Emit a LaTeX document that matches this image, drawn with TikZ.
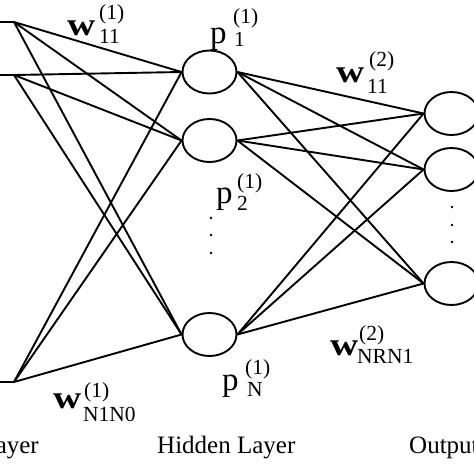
\documentclass[tikz,border=0pt]{standalone}
\usepackage{fontspec}
\setmainfont{Liberation Serif}
\usetikzlibrary{shapes.geometric}
\begin{document}
\begin{tikzpicture}[x=1pt,y=-1pt,
 neuron/.style={draw, ellipse, line width=1.9pt, minimum width=54pt, minimum height=43pt, inner sep=0},
 conn/.style={line width=1.9pt},
 wlab/.style={anchor=base west, inner sep=0, font=\fontsize{32}{32}\selectfont\bfseries, xscale=1.22},
 plab/.style={anchor=base west, inner sep=0, font=\fontsize{33}{33}\selectfont},
 idx/.style={anchor=base west, inner sep=0, font=\fontsize{21.5}{21.5}\selectfont},
 layer/.style={inner sep=0, font=\fontsize{25}{25}\selectfont},
 dotm/.style={circle, fill, inner sep=0, minimum size=2.6pt}]
\useasboundingbox (0,0) rectangle (474,474);
\clip (0,0) rectangle (474,474);
% input points
\coordinate (s1) at (-5,22);  \coordinate (i1) at (14,22);
\coordinate (s2) at (-5,75);  \coordinate (i2) at (14,75);
\coordinate (s3) at (-5,382); \coordinate (i3) at (14,382);
% hidden neurons
\node[neuron] (h1) at (209.5,72) {};
\node[neuron] (h2) at (209.5,140.5) {};
\node[neuron] (h3) at (209.5,334.5) {};
% output neurons
\node[neuron] (o1) at (451.5,113.5) {};
\node[neuron] (o2) at (451.5,169.5) {};
\node[neuron] (o3) at (451.5,283.5) {};
% connectors
\foreach \s/\i in {s1/i1,s2/i2,s3/i3} \draw[conn] (\s) -- (\i);
\foreach \i in {i1,i2,i3} \foreach \h in {h1,h2,h3} \draw[conn] (\i) -- (\h.west);
\foreach \h in {h1,h2,h3} \foreach \o in {o1,o2,o3} \draw[conn] (\h.east) -- (\o.west);
% dots
\foreach \y [count=\k] in {218,235,253} \node[dotm] (hd\k) at (211,\y) {};
\foreach \y [count=\k] in {207,225,242} \node[dotm] (od\k) at (452,\y) {};
% weight labels
\node[wlab] (wa) at (67,35) {w};
\node[idx] (wasup) at (99,19) {(1)};
\node[idx] (wasub) at (99,43) {11};
\node[wlab] (wb) at (336,82) {w};
\node[idx] (wbsup) at (369,66) {(2)};
\node[idx] (wbsub) at (367,93) {11};
\node[wlab] (wc) at (53,408) {w};
\node[idx] (wcsup) at (84,397) {(1)};
\node[idx] (wcsub) at (83,421) {N1N0};
\node[wlab] (wd) at (330,355) {w};
\node[idx] (wdsup) at (359,340) {(2)};
\node[idx] (wdsub) at (357,363) {NRN1};
% p labels
\node[plab] (pa) at (210,43) {p};
\node[idx] (pasup) at (233,23) {(1)};
\node[idx] (pasub) at (234,46) {1};
\node[plab] (pb) at (216,203) {p};
\node[idx] (pbsup) at (237,188) {(1)};
\node[idx] (pbsub) at (237,210) {2};
\node[plab] (pc) at (222,390) {p};
\node[idx] (pcsup) at (245,374) {(1)};
\node[idx] (pcsub) at (247,396) {N};
% layer labels
\node[layer, anchor=base east] (lin) at (39,453) {Input Layer};
\node[layer, anchor=base west] (lhid) at (157,453) {Hidden Layer};
\node[layer, anchor=base west] (lout) at (409,453) {Output Layer};
\end{tikzpicture}
\end{document}
